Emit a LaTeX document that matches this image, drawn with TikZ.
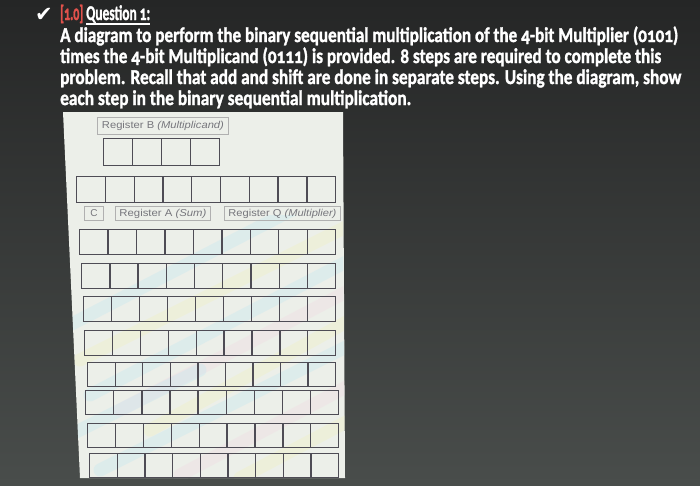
\documentclass[tikz,border=0pt]{standalone}
\usepackage{fontspec}
\usepackage{graphicx}
\setmainfont{Carlito}[Numbers=OldStyle, BoldFeatures={FakeBold=1.6}]
\newfontfamily\labfont{Liberation Sans}
\newfontfamily\symfont{DejaVu Sans}
\usetikzlibrary{calc}
\definecolor{bgtop}{HTML}{252626}
\definecolor{bgbot}{HTML}{494D4B}
\definecolor{panelc}{HTML}{ECEFE9}
\definecolor{cellc}{HTML}{4E4C55}
\definecolor{labc}{HTML}{76767C}
\definecolor{labframe}{HTML}{B0B0B0}
\definecolor{qred}{HTML}{E2524C}
\definecolor{mcyan}{HTML}{BDE6F2}
\definecolor{myel}{HTML}{F2EFB8}
\definecolor{mpink}{HTML}{F2D6E2}
\begin{document}
\begin{tikzpicture}[x=1pt,y=-1pt,
  txt/.style={text=white, inner sep=0pt, font=\bfseries\fontsize{21}{21}\selectfont},
  cell/.style={draw=cellc, line width=1.3pt, inner sep=0pt, anchor=north west},
  labbox/.style={draw=labframe, line width=0.9pt, inner sep=0pt, anchor=north west, text=labc, font=\labfont\fontsize{10}{10}\selectfont},
  band/.style={opacity=0.3, line width=13pt, line cap=round}]
\useasboundingbox (0,0) rectangle (700,485);
\shade[top color=bgtop, bottom color=bgbot] (0,0) rectangle (700,485);
% panel
\fill[panelc] (63,112) -- (343,112) -- (345,478) -- (80,478) -- cycle;
\begin{scope}
  \clip (68,215) -- (343,215) -- (345,478) -- (80,478) -- cycle;
  \draw[band, mcyan] (60,330) -- (350,180);
  \draw[band, myel] (80,360) -- (350,225);
  \draw[band, mcyan] (90,395) -- (350,260);
  \draw[band, mpink] (120,410) -- (350,290);
  \draw[band, myel] (150,430) -- (350,320);
  \draw[band, mcyan] (100,470) -- (350,345);
  \draw[band, mpink] (180,475) -- (350,385);
  \draw[band, myel] (240,478) -- (350,420);
  \draw[band, mcyan] (60,440) -- (200,370);
\end{scope}
% heading
\node[text=white, inner sep=0pt, anchor=base west, font=\symfont\fontsize{21}{21}\selectfont] (chk) at (35,21) {✔};
\node[txt, text=qred, anchor=base west] (num) at (60,20) {\resizebox{23pt}{\height}{[1.0]}};
\node[txt, anchor=base west] (qt) at (86,20) {\resizebox{64pt}{\height}{Question 1:}};
\draw[white, line width=1.4pt] ($(qt.base west)+(0,4)$) -- ($(qt.base east)+(0,4)$);
\node[txt, anchor=base west] (l2) at (60,42) {\resizebox{618pt}{\height}{A diagram to perform the binary sequential multiplication of the 4-bit Multiplier (0101)}};
\node[txt, anchor=base west] (l3) at (60,63) {\resizebox{601pt}{\height}{times the 4-bit Multiplicand (0111) is provided. 8 steps are required to complete this}};
\node[txt, anchor=base west] (l4) at (60,84) {\resizebox{621pt}{\height}{problem. Recall that add and shift are done in separate steps. Using the diagram, show}};
\node[txt, anchor=base west] (l5) at (60,105) {\resizebox{351pt}{\height}{each step in the binary sequential multiplication.}};
% labels
\node[labbox, minimum width=131pt, minimum height=17pt] (lb) at (97,117) {\resizebox{122pt}{\height}{Register B \textit{(Multiplicand)}}};
\node[labbox, minimum width=19pt, minimum height=14pt] (lc) at (84,206) {C};
\node[labbox, minimum width=95pt, minimum height=14pt] (la) at (115,206) {\resizebox{87pt}{\height}{Register A \textit{(Sum)}}};
\node[labbox, minimum width=116pt, minimum height=14pt] (lq) at (224,206) {\resizebox{108pt}{\height}{Register Q \textit{(Multiplier)}}};
% register B cells
\foreach \c in {0,...,3} {
  \node[cell, minimum width=29pt, minimum height=27pt] (b\c) at ({103+\c*29},138) {};
}
% rows of 9 cells
\foreach \r/\xl/\xr/\yt/\yb in {0/76/335/176/202, 1/79/335/229/254, 2/81/335/263/288, 3/83/335/296/321, 4/84/335/330/355, 5/87/335/362/386, 6/85/338/390/414, 7/87/338/423/447, 8/89/338/453/477} {
  \pgfmathsetmacro\w{(\xr-\xl)/9}
  \pgfmathsetmacro\h{\yb-\yt}
  \foreach \c in {0,...,8} {
    \node[cell, minimum width=\w pt, minimum height=\h pt] (r\r c\c) at ({\xl+\c*\w},\yt) {};
  }
}
\end{tikzpicture}
\end{document}
